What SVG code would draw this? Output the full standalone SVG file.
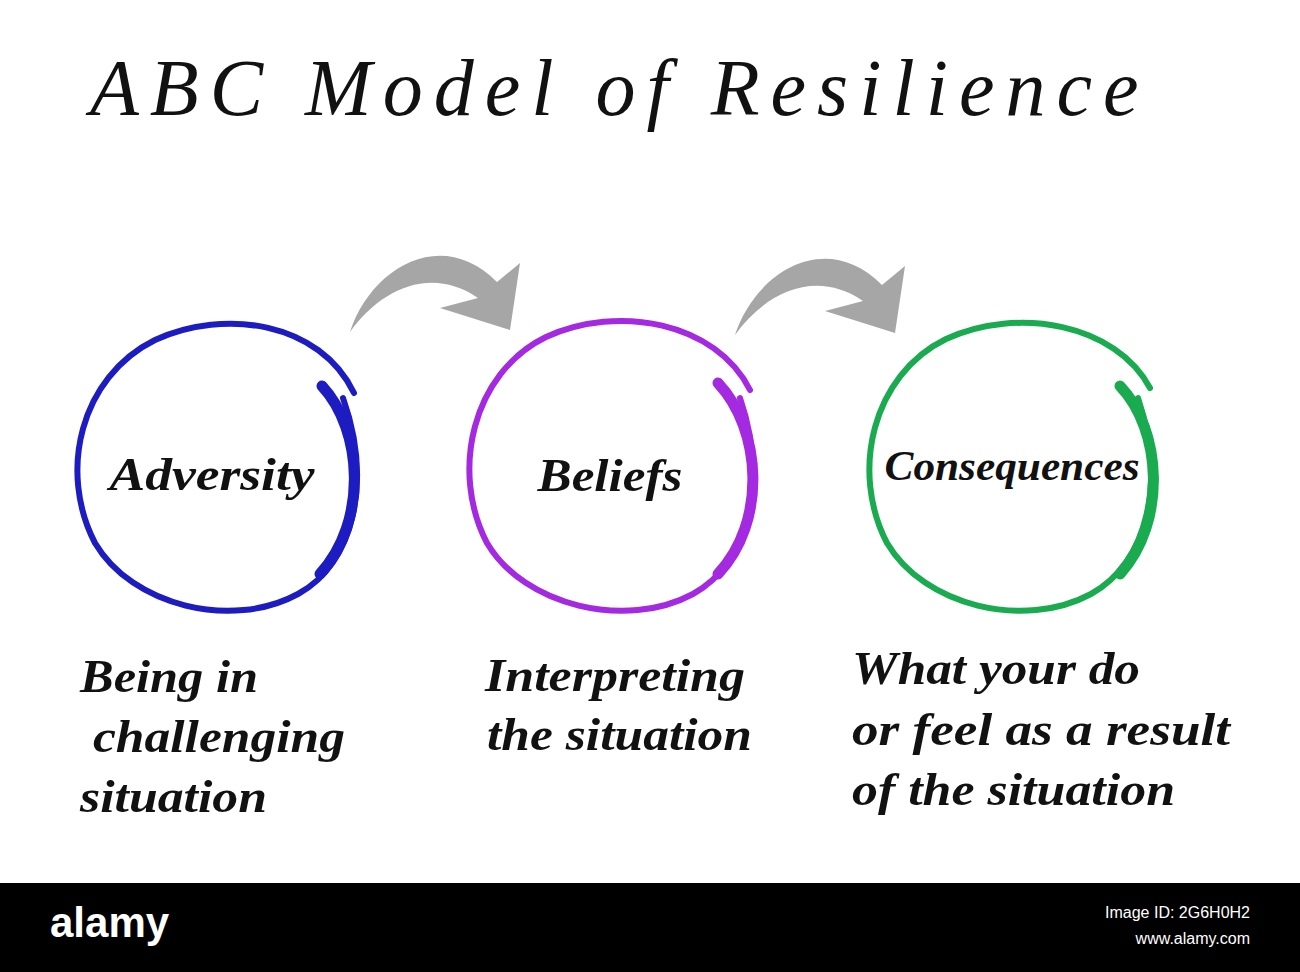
<svg xmlns="http://www.w3.org/2000/svg" width="1300" height="972" viewBox="0 0 1300 972">
<style>
.t{font-family:"Liberation Serif",serif;font-style:italic;fill:#111}
.lbl{font-size:46px;text-anchor:middle;font-weight:bold}
.desc{font-size:47px;font-weight:bold}
.arr{fill:#a6a6a6}
</style>
<rect width="1300" height="972" fill="#fff"/>
<text class="t" x="90" y="115" font-size="80" letter-spacing="11">ABC Model of Resilience</text>
<g id="connectors">
<path class="arr" d="M350,332 C370,270 440,225 497,282 L520,263 L510,330 L440,308 L478,298 C430,265 380,290 350,332 Z"/>
<path class="arr" d="M735,335 C755,273 825,228 882,285 L905,266 L895,333 L825,311 L863,301 C815,268 765,293 735,335 Z"/>
</g>
<g id="adversity" stroke-linecap="round">
<path d="M354,393 C320,322 225,308 155,340 C80,377 58,472 95,543 C132,606 232,630 298,594 C355,563 372,480 343,398" fill="none" stroke="#1c1cc0" stroke-width="6"/>
<path d="M322,386 C363,430 368,522 320,574" fill="none" stroke="#1c1cc0" stroke-width="11"/>
<text class="t lbl" x="212" y="490" textLength="205" lengthAdjust="spacingAndGlyphs">Adversity</text>
<text class="t desc" x="80" y="692" textLength="178" lengthAdjust="spacingAndGlyphs">Being in</text>
<text class="t desc" x="93" y="752" textLength="252" lengthAdjust="spacingAndGlyphs">challenging</text>
<text class="t desc" x="80" y="812" textLength="187" lengthAdjust="spacingAndGlyphs">situation</text>
</g>
<g id="beliefs" stroke-linecap="round">
<path d="M750,390 C716,322 618,304 546,337 C472,373 450,472 487,543 C524,606 626,630 693,594 C750,563 768,480 740,398" fill="none" stroke="#a32ae0" stroke-width="6"/>
<path d="M718,383 C762,430 767,522 718,574" fill="none" stroke="#a32ae0" stroke-width="11"/>
<text class="t lbl" x="610" y="491" textLength="145" lengthAdjust="spacingAndGlyphs">Beliefs</text>
<text class="t desc" x="485" y="691" textLength="260" lengthAdjust="spacingAndGlyphs">Interpreting</text>
<text class="t desc" x="487" y="750" textLength="265" lengthAdjust="spacingAndGlyphs">the situation</text>
</g>
<g id="consequences" stroke-linecap="round">
<path d="M1150,388 C1116,324 1018,306 946,339 C872,375 850,472 887,543 C924,606 1024,630 1091,594 C1148,563 1166,480 1138,398" fill="none" stroke="#1aaa50" stroke-width="6"/>
<path d="M1120,386 C1162,430 1167,522 1120,574" fill="none" stroke="#1aaa50" stroke-width="11"/>
<text class="t" x="1012" y="480" font-size="42" font-weight="bold" text-anchor="middle" textLength="255" lengthAdjust="spacingAndGlyphs">Consequences</text>
<text class="t desc" x="852" y="684" textLength="288" lengthAdjust="spacingAndGlyphs">What your do</text>
<text class="t desc" x="852" y="745" textLength="378" lengthAdjust="spacingAndGlyphs">or feel as a result</text>
<text class="t desc" x="852" y="805" textLength="323" lengthAdjust="spacingAndGlyphs">of the situation</text>
</g>
<rect x="0" y="883" width="1300" height="89" fill="#000"/>
<text x="50" y="937" font-family="Liberation Sans,sans-serif" font-weight="bold" font-size="42" fill="#fff">alamy</text>
<text x="1250" y="918" font-family="Liberation Sans,sans-serif" font-size="16" fill="#fff" text-anchor="end">Image ID: 2G6H0H2</text>
<text x="1250" y="944" font-family="Liberation Sans,sans-serif" font-size="16" fill="#fff" text-anchor="end">www.alamy.com</text>
</svg>
